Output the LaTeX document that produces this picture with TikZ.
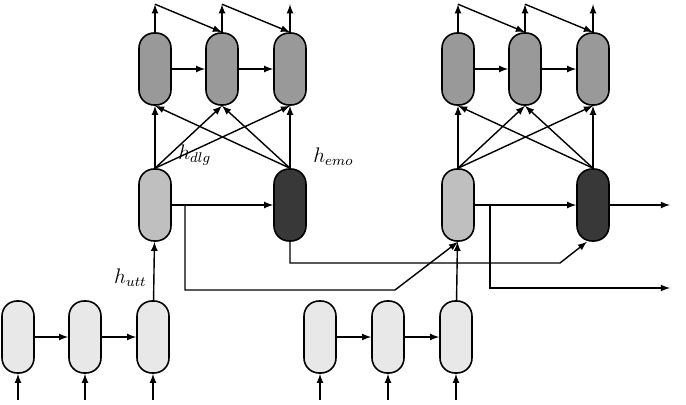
\documentclass[tikz,border=0pt]{standalone}
\usepackage{amsmath}
\usetikzlibrary{positioning,calc}
\begin{document}
\begin{tikzpicture}[x=0.02cm,y=-0.02cm,
  cell/.style={draw, line width=0.9pt, rounded corners=0.3cm, minimum width=0.64cm,
               minimum height=1.44cm, inner sep=0pt},
  utt/.style={cell, fill=gray!18},
  dlg/.style={cell, fill=gray!50},
  emo/.style={cell, fill=black!75!red!40!black, fill=black!78},
  top/.style={cell, fill=gray!80},
  lbl/.style={font=\large},
  every path/.style={line width=0.8pt},
  >=latex
]
\useasboundingbox (0,0) rectangle (686,405);

% Utterance encoders
\foreach \n/\x in {u1/18,u2/85,u3/153,u4/320,u5/388,u6/456}{
  \node[utt] (\n) at (\x,337) {};
  \coordinate (\n in) at (\x,400);
  \draw[->] (\n in) -- (\n.south);
}
\draw[->] (u1) -- (u2);
\draw[->] (u2) -- (u3);
\draw[->] (u4) -- (u5);
\draw[->] (u5) -- (u6);

% Dialogue and emotion states
\node[dlg] (d1) at (155,205) {};
\node[emo] (e1) at (290,205) {};
\node[dlg] (d2) at (458,205) {};
\node[emo] (e2) at (593,205) {};
\node[lbl, above right=-2pt and 0pt of d1.north east] {$h_{dlg}$};
\node[lbl, above right=-2pt and 0pt of e1.north east] {$h_{emo}$};
\node[lbl, left=0pt of u3.north, anchor=south east, yshift=4pt] {$h_{utt}$};

\draw[->] (u3) -- (d1);
\draw[->] (u6) -- (d2);
\draw[->] (d1) -- (e1);
\draw[->] (d2) -- (e2);

% Decoders
\foreach \g/\d/\e/\xa/\xb/\xc in {a/d1/e1/155/222/290, b/d2/e2/458/525/593}{
  \node[top] (\g1) at (\xa,69) {};
  \node[top] (\g2) at (\xb,69) {};
  \node[top] (\g3) at (\xc,69) {};
  \draw[->] (\g1) -- (\g2);
  \draw[->] (\g2) -- (\g3);
  \foreach \i in {1,2,3}{
    \draw[->] (\d.north) -- (\g\i.south);
    \draw[->] (\e.north) -- (\g\i.south);
    \coordinate (\g o\i) at ($(\g\i.north)+(0,-28)$);
    \draw[->] (\g\i.north) -- (\g o\i);
  }
  \draw[->] (\g o1) -- (\g2.north);
  \draw[->] (\g o2) -- (\g3.north);
}

% Links between turns
\coordinate (k1) at (185,205);
\coordinate (k2) at (395,290);
\draw[->] (k1) |- (k2) -- (d2.south);
\coordinate (k3) at (560,263);
\draw[->] (e1.south) |- (k3) -- ($(e2.south)+(-6,0)$);
\coordinate (k4) at (490,205);
\coordinate (o1) at (670,288);
\draw[->] (k4) |- (o1);
\coordinate (o2) at (670,205);
\draw[->] (e2) -- (o2);
\end{tikzpicture}
\end{document}
